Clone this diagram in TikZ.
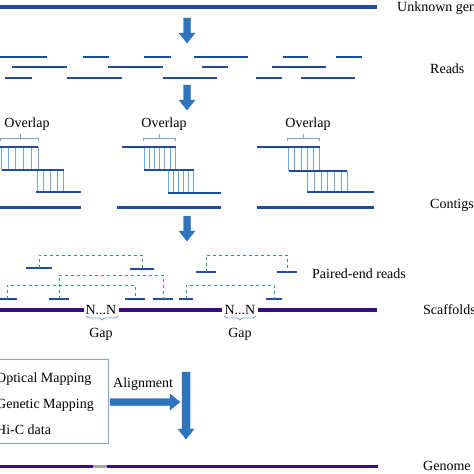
\documentclass[tikz,border=0pt]{standalone}
\usepackage{fontspec}
\setmainfont{Liberation Serif}
\usetikzlibrary{calc,decorations.pathreplacing}
\definecolor{readblue}{RGB}{30,78,155}
\definecolor{arrowblue}{RGB}{46,117,190}
\definecolor{tickblue}{RGB}{120,165,210}
\definecolor{scafpurple}{RGB}{60,12,135}
\definecolor{pairgreen}{RGB}{40,160,95}
\definecolor{boxblue}{RGB}{125,165,205}
\definecolor{gapgray}{RGB}{165,165,165}

\begin{document}
\begin{tikzpicture}[x=1pt,y=-1pt,
    lbl/.style={anchor=west,inner sep=0pt,font=\fontsize{14}{16}\selectfont},
    genome/.style={readblue,line width=3.5pt},
    shortread/.style={readblue,line width=2.5pt},
    contig/.style={readblue,line width=3pt},
    tick/.style={tickblue,line width=0.8pt},
    pread/.style={readblue,line width=1.6pt},
    pair/.style={pairgreen,dashed,line width=1pt},
    scaf/.style={scafpurple,line width=3.5pt},
    blockarrow/.style={fill=arrowblue,draw=arrowblue!85!black,line width=0.3pt}]
\useasboundingbox (0,0) rectangle (474,474);
% unknown genome and reads
\draw[genome] (0,7) -- (377,7);
\node[lbl] (unknown) at (397,8) {Unknown genome};
\foreach \xa/\xb/\y in {0/47/57,83/109/57,144/171/57,194/248/57,283/308/57,336/362/57,
                        12/67/67,108/163/67,202/228/67,272/326/67,
                        5/32/78,67/122/78,163/217/78,256/282/78,301/355/78}
    \draw[shortread] (\xa,\y) -- (\xb,\y);
\node[lbl] (reads) at (430,69) {Reads};
% down arrows
\foreach \ya/\yb in {18/43,85/110,216/241}
    \draw[blockarrow] (183.5,\ya) -- (190.5,\ya) -- (190.5,{\yb-10}) -- (195,{\yb-10})
        -- (187,\yb) -- (179,{\yb-10}) -- (183.5,{\yb-10}) -- cycle;
% overlaps -> contigs
\foreach \x in {1,8,15,23,31,38} \draw[tick] (\x,147) -- (\x,170);
\foreach \x in {37,43,50,57,63} \draw[tick] (\x,170) -- (\x,192);
\foreach \x in {144,149,154,159,164,170,175} \draw[tick] (\x,147) -- (\x,170);
\foreach \x in {168,173,178,183,188,193} \draw[tick] (\x,170) -- (\x,193);
\foreach \x in {288,294,301,307,313,319} \draw[tick] (\x,147) -- (\x,171);
\foreach \x in {307,314,321,327,334,341,347} \draw[tick] (\x,171) -- (\x,192);
\foreach \xa/\xb/\xc/\xt in {0/38/20/27,143/175/159/164,287/319/303/308}{
    \draw[tick] (\xa,141) -- (\xa,138) -- (\xb,138) -- (\xb,141) (\xc,138) -- (\xc,134);
    \node[lbl,anchor=center] at (\xt,124) {Overlap};
}
\foreach \xa/\xb/\y in {-5/38/147,2/64/170,36/81/192,
                        122/176/147,144/194/170,168/221/193,
                        257/320/147,289/347/171,307/374/192}
    \draw[shortread] (\xa,\y) -- (\xb,\y);
\foreach \xa/\xb in {-5/81,117/221,257/374} \draw[contig] (\xa,207) -- (\xb,207);
\node[lbl] (contigs) at (430,205) {Contigs};
% paired-end reads
\foreach \n/\x/\y/\w in {r1/39/268/13,r2/142/269/12,r3/206/272/10,r4/287/272/10,
                         r5/59/299/10,r6/163/299/10,r7/7/299/10,r8/135/299/10,
                         r9/186/299/7,r10/274/299/8}{
    \coordinate (\n) at (\x,\y);
    \draw[pread] ({\x-\w},\y) -- ({\x+\w},\y);
}
\draw[pair] (r1) -- ++(0,-13) -| (r2);
\draw[pair] (r3) -- ++(0,-17) -| (r4);
\draw[pair] (r5) -- ++(0,-24) -| (r6);
\draw[pair] (r7) -- ++(0,-14) -| (r8);
\draw[pair] (r9) -- ++(0,-14) -| (r10);
\node[lbl] (paired) at (312,274) {Paired-end reads};
% scaffolds
\draw[scaf] (0,310) -- (84,310) (119,310) -- (222,310) (258,310) -- (377,310);
\foreach \x/\xa/\xb in {101/86/118,240/224/256}{
    \node[lbl,anchor=center] at (\x,310) {N...N};
    \draw[tick,decorate,decoration={brace,mirror,amplitude=4pt}] (\xa,316) -- (\xb,316);
    \node[lbl,anchor=center] at (\x,334) {Gap};
}
\node[lbl] (scaffolds) at (423,310) {Scaffolds};
% other data
\draw[boxblue,line width=0.8pt] (-5,359) rectangle (108,443);
\node[lbl] (optical) at (-4,379) {Optical Mapping};
\node[lbl] (genetic) at (-4,405) {Genetic Mapping};
\node[lbl] (hic) at (-4,430) {Hi-C data};
\node[lbl] (align) at (113,384) {Alignment};
\draw[blockarrow] (110,398.5) -- (170,398.5) -- (170,394) -- (180,402) -- (170,410)
    -- (170,405.5) -- (110,405.5) -- cycle;
\draw[blockarrow] (182,372) -- (190,372) -- (190,429) -- (194,429) -- (186,439)
    -- (178,429) -- (182,429) -- cycle;
% genome
\draw[scaf,line width=3pt] (0,466) -- (93,466) (107,466) -- (378,466);
\draw[gapgray,line width=3pt] (93,466) -- (107,466);
\node[lbl] (genomelbl) at (423,466) {Genome};
\end{tikzpicture}
\end{document}
